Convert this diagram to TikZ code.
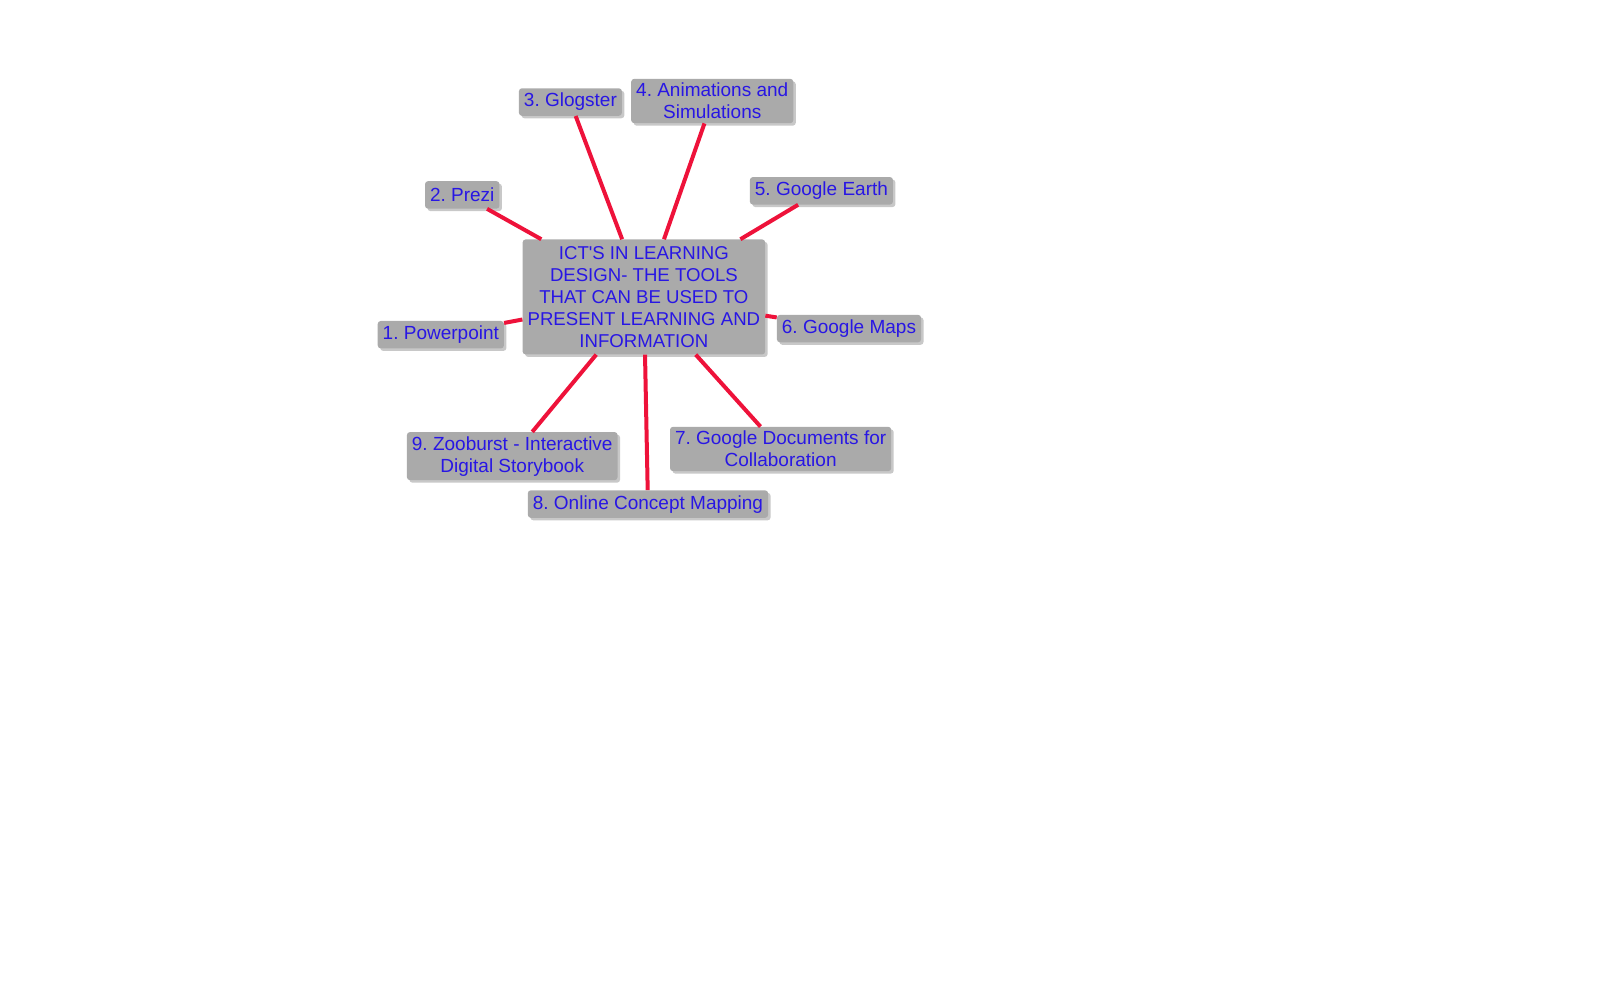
\documentclass[tikz,border=0pt]{standalone}
\usepackage{fontspec}
\setmainfont{Liberation Sans}
\usepackage{tikz}
\usetikzlibrary{shadows}
\definecolor{boxgray}{RGB}{170,170,170}
\definecolor{shadegray}{RGB}{200,200,200}
\definecolor{textblue}{RGB}{40,22,228}
\definecolor{linkred}{RGB}{238,18,58}
\frenchspacing
\tikzset{
  topic/.style={
    rectangle,
    rounded corners=3pt,
    fill=boxgray,
    text=textblue,
    align=center,
    inner xsep=5pt,
    inner ysep=4.2pt,
    minimum height=27.5pt,
    font=\fontsize{19}{22}\selectfont,
    drop shadow={shadow xshift=2.5pt, shadow yshift=-2.5pt, fill=shadegray, opacity=1}
    },
  hub/.style={
    topic,
    font=\fontsize{18.6}{22}\selectfont,
    minimum width=241pt,
    minimum height=115pt
    },
  link/.style={draw=linkred, line width=4pt}
}

\begin{document}
\begin{tikzpicture}[
            x = 1.0204pt, y = -1.0204pt % grid of the 1568 wide view, y pointing down
        ]

         \useasboundingbox (0,0) rectangle (1568,985);

         % centre
         \node[hub] (ict) at (631,291) {ICT\textquotesingle S IN LEARNING\\DESIGN- THE TOOLS\\THAT CAN BE USED TO\\PRESENT LEARNING AND\\INFORMATION};

         % tools
         \node[topic] (ppt) at (432,328) {1. Powerpoint};
         \node[topic] (prezi) at (453,191) {2. Prezi};
         \node[topic] (glog) at (559,100) {3. Glogster};
         \node[topic] (anim) at (698,99) {4. Animations and\\Simulations};
         \node[topic] (earth) at (805,187) {5. Google Earth};
         \node[topic] (maps) at (832,322) {6. Google Maps};
         \node[topic] (docs) at (765,440) {7. Google Documents for\\Collaboration};
         \node[topic] (cmap) at (635,494) {8. Online Concept Mapping};
         \node[topic] (zoo) at (502,447) {9. Zooburst - Interactive\\Digital Storybook};

         \foreach \t in {ppt,prezi,glog,anim,earth,maps,docs,cmap,zoo}
            \path[link] (ict) edge (\t);
  \end{tikzpicture}
\end{document}
